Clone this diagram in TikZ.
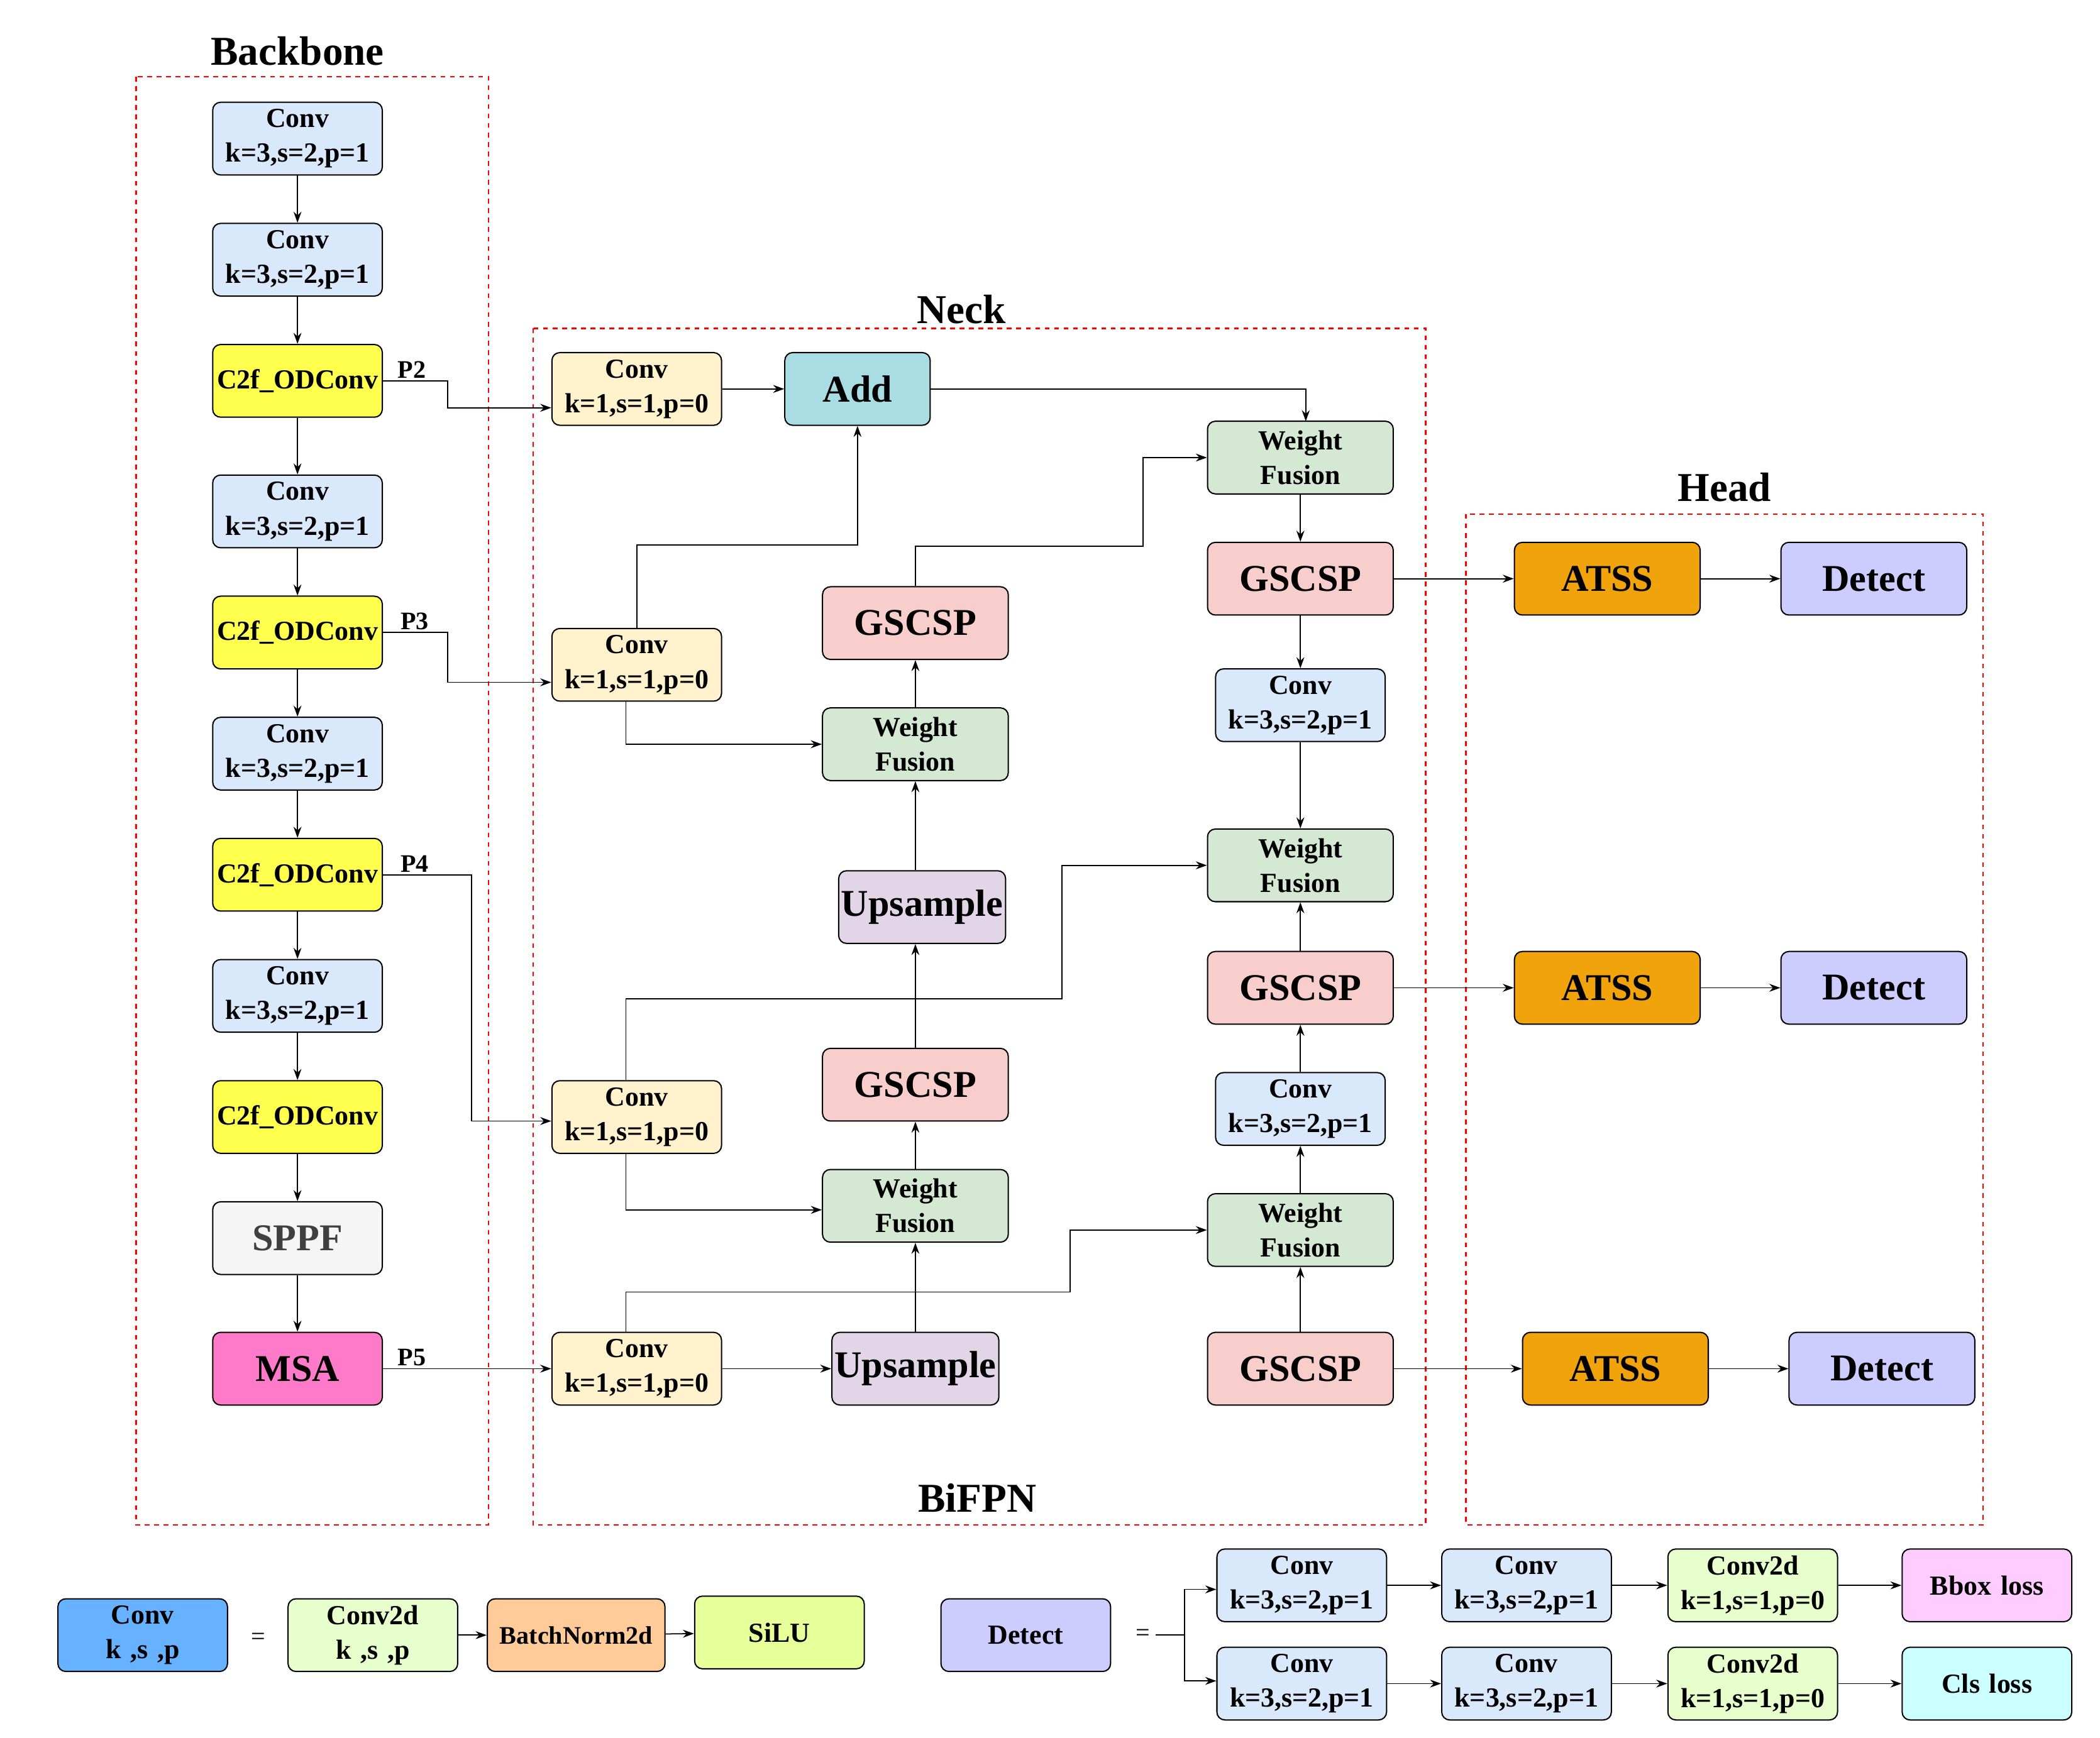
\documentclass[tikz,border=0pt]{standalone}
\usepackage{fontspec}
\setmainfont{Liberation Serif}
\usetikzlibrary{calc,arrows.meta}
\definecolor{cblue}{HTML}{DAE8FC}
\definecolor{ccream}{HTML}{FFF2CC}
\definecolor{cteal}{HTML}{A9DDE3}
\definecolor{cgreen}{HTML}{D5E8D4}
\definecolor{cpink}{HTML}{F8CECC}
\definecolor{cpurp}{HTML}{E1D5E7}
\definecolor{cyel}{HTML}{FFFF4D}
\definecolor{cgray}{HTML}{F5F5F5}
\definecolor{cmsa}{HTML}{FF7BC9}
\definecolor{corange}{HTML}{F0A30A}
\definecolor{clav}{HTML}{CCCCFF}
\definecolor{cconv}{HTML}{66B2FF}
\definecolor{cc2d}{HTML}{E6FFCC}
\definecolor{cbn}{HTML}{FFCC99}
\definecolor{csilu}{HTML}{E6FF99}
\definecolor{cbbox}{HTML}{FFCCFF}
\definecolor{ccls}{HTML}{CCFFFF}
\tikzset{
 box/.style={draw=black, line width=0.8pt, rounded corners=5pt, align=center, font=\bfseries\fontsize{17.5}{22}\selectfont, minimum height=1.62cm, inner sep=1pt},
 sm/.style={box, minimum width=3.78cm, text width=3.7cm},
 lg/.style={box, minimum width=4.14cm, font=\bfseries\fontsize{24}{28}\selectfont},
 wf/.style={box, minimum width=4.14cm},
 up/.style={box, minimum width=3.72cm, font=\bfseries\fontsize{24}{28}\selectfont},
 frame/.style={draw=red, dashed, line width=1pt},
 ttl/.style={font=\bfseries\fontsize{26}{30}\selectfont},
 pl/.style={font=\bfseries\fontsize{16}{20}\selectfont, anchor=south},
 ar/.style={-{Stealth[length=7pt,width=5pt]}, line width=0.7pt},
}
\begin{document}
\begin{tikzpicture}[x=0.03cm,y=-0.03cm]
\useasboundingbox (0,0) rectangle (1560,1291);
% frames
\draw[frame] (101,57) rectangle (363,1133);
\draw[frame] (396,244) rectangle (1059,1133);
\draw[frame] (1089,382) rectangle (1473,1133);
\node[ttl] at (221,38) {Backbone};
\node[ttl] at (714,230) {Neck};
\node[ttl] at (726,1113) {BiFPN};
\node[ttl] at (1281,362) {Head};
% backbone
\node[sm,fill=cblue] (b1) at (221,103) {Conv\\k=3,s=2,p=1};
\node[sm,fill=cblue] (b2) at (221,193) {Conv\\k=3,s=2,p=1};
\node[sm,fill=cyel] (b3) at (221,283) {C2f\_ODConv};
\node[sm,fill=cblue] (b4) at (221,380) {Conv\\k=3,s=2,p=1};
\node[sm,fill=cyel] (b5) at (221,470) {C2f\_ODConv};
\node[sm,fill=cblue] (b6) at (221,560) {Conv\\k=3,s=2,p=1};
\node[sm,fill=cyel] (b7) at (221,650) {C2f\_ODConv};
\node[sm,fill=cblue] (b8) at (221,740) {Conv\\k=3,s=2,p=1};
\node[sm,fill=cyel] (b9) at (221,830) {C2f\_ODConv};
\node[sm,fill=cgray,font=\bfseries\fontsize{24}{28}\selectfont,text=black!75] (b10) at (221,920) {SPPF};
\node[sm,fill=cmsa,font=\bfseries\fontsize{24}{28}\selectfont] (b11) at (221,1017) {MSA};
\foreach \a/\b in {b1/b2,b2/b3,b3/b4,b4/b5,b5/b6,b6/b7,b7/b8,b8/b9,b9/b10,b10/b11}
  \draw[ar] (\a) -- (\b);
% neck
\node[sm,fill=ccream] (ca) at (473,289) {Conv\\k=1,s=1,p=0};
\node[box,fill=cteal,minimum width=3.24cm,font=\bfseries\fontsize{24}{28}\selectfont] (add) at (637,289) {Add};
\node[sm,fill=ccream] (cb) at (473,494) {Conv\\k=1,s=1,p=0};
\node[lg,fill=cpink] (g1) at (680,463) {GSCSP};
\node[wf,fill=cgreen] (w1) at (680,553) {Weight\\Fusion};
\node[up,fill=cpurp] (u1) at (685,674) {Upsample};
\node[lg,fill=cpink] (g2) at (680,806) {GSCSP};
\node[sm,fill=ccream] (cc) at (473,830) {Conv\\k=1,s=1,p=0};
\node[wf,fill=cgreen] (w2) at (680,896) {Weight\\Fusion};
\node[sm,fill=ccream] (cd) at (473,1017) {Conv\\k=1,s=1,p=0};
\node[up,fill=cpurp] (u2) at (680,1017) {Upsample};
\node[wf,fill=cgreen] (w3) at (966,340) {Weight\\Fusion};
\node[lg,fill=cpink] (g3) at (966,430) {GSCSP};
\node[sm,fill=cblue] (ce) at (966,524) {Conv\\k=3,s=2,p=1};
\node[wf,fill=cgreen] (w4) at (966,643) {Weight\\Fusion};
\node[lg,fill=cpink] (g4) at (966,734) {GSCSP};
\node[sm,fill=cblue] (cf) at (966,824) {Conv\\k=3,s=2,p=1};
\node[wf,fill=cgreen] (w5) at (966,914) {Weight\\Fusion};
\node[lg,fill=cpink] (g5) at (966,1017) {GSCSP};
% head
\node[lg,fill=corange] (a1) at (1194,430) {ATSS};
\node[lg,fill=clav] (d1) at (1392,430) {Detect};
\node[lg,fill=corange] (a2) at (1194,734) {ATSS};
\node[lg,fill=clav] (d2) at (1392,734) {Detect};
\node[lg,fill=corange] (a3) at (1200,1017) {ATSS};
\node[lg,fill=clav] (d3) at (1398,1017) {Detect};
% backbone to neck
\draw[ar] (b3.east) -- ++(48,0) |- ($(ca.west)+(0,14)$);
\node[pl] at (306,285) {P2};
\draw[ar] (b5.east) -- ++(48,0) |- ($(cb.west)+(0,13)$);
\node[pl] at (308,472) {P3};
\draw[ar] (b7.east) -- ++(66,0) |- ($(cc.west)+(0,3)$);
\node[pl] at (308,652) {P4};
\draw[ar] (b11.east) -- (cd.west);
\node[pl] at (306,1019) {P5};
% neck edges
\draw[ar] (ca) -- (add);
\draw[ar] (add.east) -| (970,313);
\draw[ar] (cb.north) |- (637,405) -- (add.south);
\draw[ar] ($(cb.south)+(-8,0)$) |- (w1.west);
\draw[ar] (u1.north -| w1) -- (w1.south);
\draw[ar] (w1) -- (g1);
\draw[ar] (g1.north) |- (849,406) |- (w3.west);
\draw[ar] (g2) -- (u1.south -| g2);
\draw[ar] ($(cc.north)+(-8,0)$) |- (789,742) |- (w4.west);
\draw[ar] ($(cc.south)+(-8,0)$) |- ($(w2.west)+(0,3)$);
\draw[ar] (w2) -- (g2);
\draw[ar] (cd) -- (u2);
\draw[ar] (u2) -- (w2);
\draw[ar] ($(cd.north)+(-8,0)$) |- (795,960) |- (w5.west);
\draw[ar] (w3) -- (g3);
\draw[ar] (g3) -- (ce);
\draw[ar] (ce) -- (w4);
\draw[ar] (g4) -- (w4);
\draw[ar] (cf) -- (g4);
\draw[ar] (w5) -- (cf);
\draw[ar] (g5) -- (w5);
\draw[ar] (g3) -- (a1); \draw[ar] (a1) -- (d1);
\draw[ar] (g4) -- (a2); \draw[ar] (a2) -- (d2);
\draw[ar] (g5) -- (a3); \draw[ar] (a3) -- (d3);
% legend
\node[sm,fill=cconv] (l1) at (106,1215) {Conv\\k ,s ,p};
\node[font=\fontsize{16}{20}\selectfont] (eq1) at (192,1218) {=};
\node[sm,fill=cc2d] (l2) at (277,1215) {Conv2d\\k ,s ,p};
\node[box,fill=cbn,minimum width=3.96cm,font=\bfseries\fontsize{16}{20}\selectfont] (l3) at (428,1215) {BatchNorm2d};
\node[sm,fill=csilu] (l4) at (579,1213) {SiLU};
\draw[ar] (l2) -- (l3); \draw[ar] (l3) -- (l4);
\node[sm,fill=clav] (l5) at (762,1215) {Detect};
\node[font=\fontsize{16}{20}\selectfont] (eq2) at (849,1215) {=};
\coordinate (br) at (880,1215);
\node[sm,fill=cblue] (r1) at (967,1178) {Conv\\k=3,s=2,p=1};
\node[sm,fill=cblue] (r2) at (1134,1178) {Conv\\k=3,s=2,p=1};
\node[sm,fill=cc2d] (r3) at (1302,1178) {Conv2d\\k=1,s=1,p=0};
\node[sm,fill=cbbox] (r4) at (1476,1178) {Bbox loss};
\node[sm,fill=cblue] (s1) at (967,1251) {Conv\\k=3,s=2,p=1};
\node[sm,fill=cblue] (s2) at (1134,1251) {Conv\\k=3,s=2,p=1};
\node[sm,fill=cc2d] (s3) at (1302,1251) {Conv2d\\k=1,s=1,p=0};
\node[sm,fill=ccls] (s4) at (1476,1251) {Cls loss};
\draw[line width=0.7pt] (eq2.east) -- (br);
\draw[ar] (br) |- ($(r1.west)+(0,3)$);
\draw[ar] (br) |- ($(s1.west)+(0,-2)$);
\draw[ar] (r1) -- (r2); \draw[ar] (r2) -- (r3); \draw[ar] (r3) -- (r4);
\draw[ar] (s1) -- (s2); \draw[ar] (s2) -- (s3); \draw[ar] (s3) -- (s4);
\end{tikzpicture}
\end{document}
